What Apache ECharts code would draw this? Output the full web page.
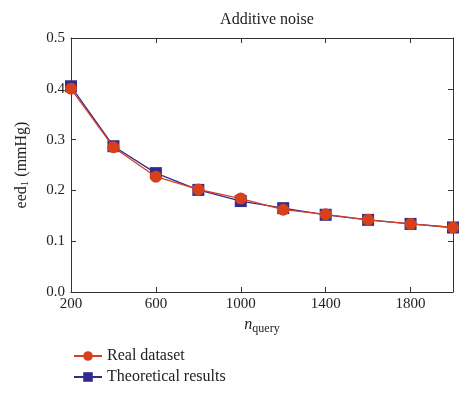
<!DOCTYPE html>
<html><head><meta charset="utf-8">
<script src="https://cdn.jsdelivr.net/npm/echarts@6/dist/echarts.min.js"></script>
<style>html,body{margin:0;padding:0;background:#fff}#c{width:474px;height:395px}</style>
</head><body><div id="c"></div>
<script>
const nQuery = [200, 400, 600, 800, 1000, 1200, 1400, 1600, 1800, 2000];
const realDataset = [0.400, 0.285, 0.227, 0.202, 0.184, 0.162, 0.153, 0.142, 0.134, 0.127];
const theoretical = [0.405, 0.287, 0.234, 0.201, 0.179, 0.165, 0.152, 0.142, 0.134, 0.127];
const xTicks = [200, 600, 1000, 1400, 1800];
const yTicks = [0, 0.1, 0.2, 0.3, 0.4, 0.5];

const FONT = 'Liberation Serif';
const AX = '#333';
const chart = echarts.init(document.getElementById('c'));
const tick = {show: true, inside: true, length: 5, lineStyle: {color: AX}};
chart.setOption({
  animation: false,
  textStyle: {fontFamily: FONT},
  title: {text: 'Additive noise', left: 262, top: 7, textAlign: 'center',
    textStyle: {fontFamily: FONT, fontWeight: 'normal', fontSize: 16, color: '#222'}},
  grid: {left: 71, right: 21, top: 38, bottom: 103},
  legend: {
    orient: 'vertical', left: 68, top: 343, itemWidth: 28, itemHeight: 12, itemGap: 5,
    textStyle: {fontFamily: FONT, fontSize: 16, color: '#222'},
    data: ['Real dataset', 'Theoretical results']
  },
  xAxis: [{
    type: 'value', min: 200, max: 2000, position: 'bottom',
    axisLine: {lineStyle: {color: AX}},
    axisTick: Object.assign({customValues: xTicks}, tick),
    axisLabel: {customValues: xTicks, color: '#222', fontSize: 15, fontFamily: FONT, margin: 5,
      formatter: v => String(v)},
    splitLine: {show: false},
    name: '{n|n}{s|query}', nameLocation: 'middle', nameGap: 22,
    nameTextStyle: {rich: {
      n: {fontFamily: FONT, fontStyle: 'italic', fontSize: 16, color: '#222'},
      s: {fontFamily: FONT, fontSize: 12, color: '#222', verticalAlign: 'bottom', padding: [8, 0, 0, 0]}
    }}
  }, {
    type: 'value', min: 200, max: 2000, position: 'top',
    axisLine: {onZero: false, lineStyle: {color: AX}},
    axisTick: Object.assign({customValues: xTicks}, tick),
    axisLabel: {show: false}, splitLine: {show: false}
  }],
  yAxis: [{
    type: 'value', min: 0, max: 0.5, interval: 0.1, position: 'left',
    axisLine: {show: true, lineStyle: {color: AX}},
    axisTick: tick,
    axisLabel: {color: '#222', fontSize: 15, fontFamily: FONT, margin: 6,
      formatter: v => v.toFixed(1)},
    splitLine: {show: false},
    name: '{a|eed}{s|1}{a| (mmHg)}', nameLocation: 'middle', nameGap: 40, nameRotate: 90,
    nameTextStyle: {rich: {
      a: {fontFamily: FONT, fontSize: 16, color: '#222'},
      s: {fontFamily: FONT, fontSize: 11, color: '#222', verticalAlign: 'bottom', padding: [8, 0, 0, 0]}
    }}
  }, {
    type: 'value', min: 0, max: 0.5, interval: 0.1, position: 'right',
    axisLine: {show: true, onZero: false, lineStyle: {color: AX}},
    axisTick: tick, axisLabel: {show: false}, splitLine: {show: false}
  }],
  series: [{
    name: 'Theoretical results', type: 'line', symbol: 'rect', symbolSize: 12,
    data: nQuery.map((x, i) => [x, theoretical[i]]),
    itemStyle: {color: '#302b8e'}, lineStyle: {color: '#302b8e', width: 1.3}, z: 2
  }, {
    name: 'Real dataset', type: 'line', symbol: 'circle', symbolSize: 12,
    data: nQuery.map((x, i) => [x, realDataset[i]]),
    itemStyle: {color: '#d8401c'}, lineStyle: {color: '#d8401c', width: 1.3}, z: 3
  }]
});
</script></body></html>
